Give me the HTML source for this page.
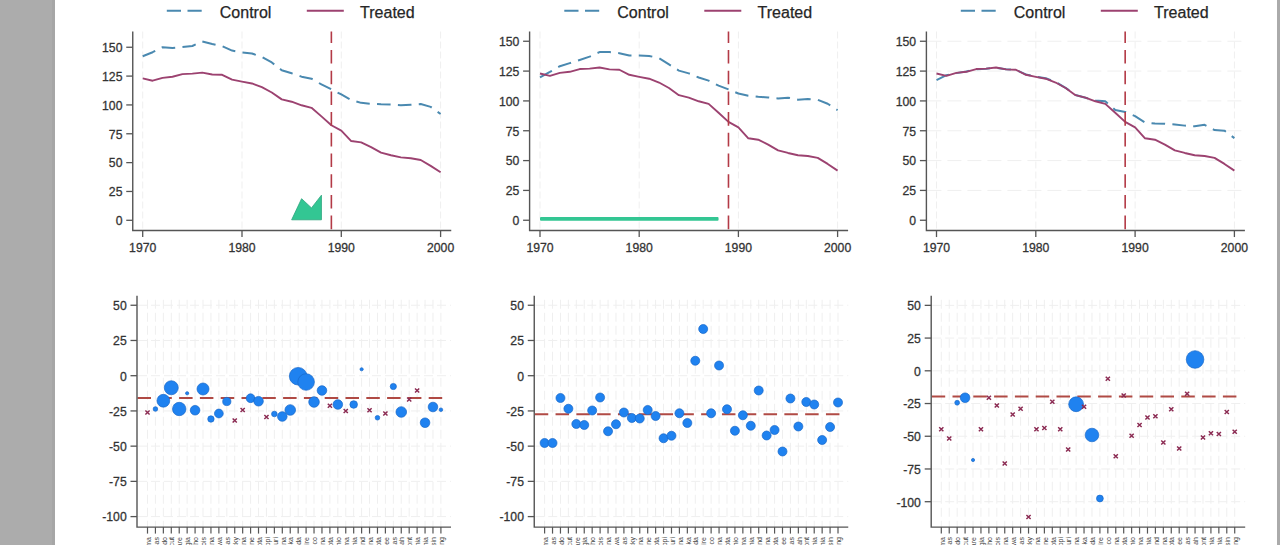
<!DOCTYPE html>
<html><head><meta charset="utf-8"><title>sdid</title>
<style>
html,body{margin:0;padding:0;background:#fff;}
body{width:1280px;height:545px;overflow:hidden;position:relative;font-family:"Liberation Sans", sans-serif;}
.gl{position:absolute;left:0;top:0;width:52px;height:545px;background:#acacac;}
.gl2{position:absolute;left:52px;top:0;width:3px;height:545px;background:#a6a6a6;}
.gr{position:absolute;left:1277px;top:0;width:3px;height:545px;background:#ababab;}
svg{position:absolute;left:0;top:0;}
.t{font-family:"Liberation Sans", sans-serif;font-size:12.8px;fill:#333333;stroke:#333;stroke-width:0.3px;}
.lg{font-family:"Liberation Sans", sans-serif;font-size:16px;fill:#262626;stroke:#262626;stroke-width:0.25px;}
.s{font-family:"Liberation Sans", sans-serif;font-size:7px;fill:#444;}
</style></head><body>
<div class="gl"></div><div class="gl2"></div><div class="gr"></div>
<svg width="1280" height="545" viewBox="0 0 1280 545">
<line x1="142.7" y1="31.5" x2="142.7" y2="230.55" stroke="#efefef" stroke-width="1" stroke-dasharray="7 3"/>
<line x1="242" y1="31.5" x2="242" y2="230.55" stroke="#efefef" stroke-width="1" stroke-dasharray="7 3"/>
<line x1="341.3" y1="31.5" x2="341.3" y2="230.55" stroke="#efefef" stroke-width="1" stroke-dasharray="7 3"/>
<line x1="440.6" y1="31.5" x2="440.6" y2="230.55" stroke="#efefef" stroke-width="1" stroke-dasharray="7 3"/>
<polygon points="291.65,219.8 301.58,198.69 311.51,207.92 321.44,195.17 321.44,219.8" fill="#33c693" stroke="#2aa57c" stroke-width="0.8" stroke-linejoin="miter"/>
<polyline points="142.7,56.24 152.63,52.21 162.56,47.25 172.49,47.94 182.42,46.9 192.35,45.98 202.28,41.48 212.21,44.01 222.14,46.21 232.07,50.59 242,52.55 251.93,53.47 261.86,56.94 271.79,62.47 281.72,70.2 291.65,73.32 301.58,76.66 311.51,78.74 321.44,84.39 331.37,89.36 341.3,94.43 351.23,99.97 361.16,102.85 371.09,103.78 381.02,104.35 390.95,104.58 400.88,105.28 410.81,104.7 420.74,104.01 430.67,106.89 440.6,114.04" fill="none" stroke="#4a89b0" stroke-width="2" stroke-dasharray="13.6 7.3" stroke-linejoin="round"/>
<polyline points="142.7,78.39 152.63,80.7 162.56,77.82 172.49,76.78 182.42,74.13 192.35,73.66 202.28,72.63 212.21,74.47 222.14,74.82 232.07,79.66 242,81.63 251.93,83.47 261.86,87.16 271.79,92.47 281.72,99.39 291.65,101.7 301.58,105.28 311.51,107.81 321.44,116.35 331.37,125.24 341.3,130.54 351.23,141.04 361.16,142.43 371.09,147.16 381.02,152.69 390.95,155.23 400.88,157.42 410.81,158.23 420.74,159.96 430.67,165.85 440.6,172.31" fill="none" stroke="#9c4270" stroke-width="1.9" stroke-linejoin="round"/>
<line x1="331.37" y1="31.5" x2="331.37" y2="230.55" stroke="#b33a46" stroke-width="1.6" stroke-dasharray="13.6 7.1" stroke-dashoffset="2.2"/>
<path d="M132.75 31.5V230.55H451.25" fill="none" stroke="#555555" stroke-width="1.4"/>
<line x1="126.25" y1="220.3" x2="132.75" y2="220.3" stroke="#555555" stroke-width="1.3"/>
<text transform="translate(122.45,225.1) scale(0.955,1)" text-anchor="end" class="t">0</text>
<line x1="126.25" y1="191.46" x2="132.75" y2="191.46" stroke="#555555" stroke-width="1.3"/>
<text transform="translate(122.45,196.26) scale(0.955,1)" text-anchor="end" class="t">25</text>
<line x1="126.25" y1="162.62" x2="132.75" y2="162.62" stroke="#555555" stroke-width="1.3"/>
<text transform="translate(122.45,167.42) scale(0.955,1)" text-anchor="end" class="t">50</text>
<line x1="126.25" y1="133.77" x2="132.75" y2="133.77" stroke="#555555" stroke-width="1.3"/>
<text transform="translate(122.45,138.57) scale(0.955,1)" text-anchor="end" class="t">75</text>
<line x1="126.25" y1="104.93" x2="132.75" y2="104.93" stroke="#555555" stroke-width="1.3"/>
<text transform="translate(122.45,109.73) scale(0.955,1)" text-anchor="end" class="t">100</text>
<line x1="126.25" y1="76.09" x2="132.75" y2="76.09" stroke="#555555" stroke-width="1.3"/>
<text transform="translate(122.45,80.89) scale(0.955,1)" text-anchor="end" class="t">125</text>
<line x1="126.25" y1="47.25" x2="132.75" y2="47.25" stroke="#555555" stroke-width="1.3"/>
<text transform="translate(122.45,52.05) scale(0.955,1)" text-anchor="end" class="t">150</text>
<line x1="142.7" y1="230.55" x2="142.7" y2="237.05" stroke="#555555" stroke-width="1.3"/>
<text transform="translate(142.7,252) scale(0.955,1)" text-anchor="middle" class="t">1970</text>
<line x1="242" y1="230.55" x2="242" y2="237.05" stroke="#555555" stroke-width="1.3"/>
<text transform="translate(242,252) scale(0.955,1)" text-anchor="middle" class="t">1980</text>
<line x1="341.3" y1="230.55" x2="341.3" y2="237.05" stroke="#555555" stroke-width="1.3"/>
<text transform="translate(341.3,252) scale(0.955,1)" text-anchor="middle" class="t">1990</text>
<line x1="440.6" y1="230.55" x2="440.6" y2="237.05" stroke="#555555" stroke-width="1.3"/>
<text transform="translate(440.6,252) scale(0.955,1)" text-anchor="middle" class="t">2000</text>
<line x1="166.8" y1="10.8" x2="202.3" y2="10.8" stroke="#4a89b0" stroke-width="2" stroke-dasharray="14.2 6.5"/>
<text x="219.8" y="17.5" class="lg">Control</text>
<line x1="306.8" y1="10.8" x2="343.8" y2="10.8" stroke="#9c4270" stroke-width="2"/>
<text x="360.1" y="17.5" class="lg">Treated</text>
<line x1="540" y1="31.5" x2="540" y2="230.55" stroke="#efefef" stroke-width="1" stroke-dasharray="7 3"/>
<line x1="639.2" y1="31.5" x2="639.2" y2="230.55" stroke="#efefef" stroke-width="1" stroke-dasharray="7 3"/>
<line x1="738.4" y1="31.5" x2="738.4" y2="230.55" stroke="#efefef" stroke-width="1" stroke-dasharray="7 3"/>
<line x1="837.6" y1="31.5" x2="837.6" y2="230.55" stroke="#efefef" stroke-width="1" stroke-dasharray="7 3"/>
<rect x="540" y="216.9" width="178.56" height="3.8" fill="#33c693" rx="1"/>
<polyline points="540,77.29 549.92,71.92 559.84,66.19 569.76,63.09 579.68,59.99 589.6,56.65 599.52,52.11 609.44,52.11 619.36,53.19 629.28,55.57 639.2,55.57 649.12,55.93 659.04,58.08 668.96,64.41 678.88,70.61 688.8,73.35 698.72,77.53 708.64,80.63 718.56,85.65 728.48,89.34 738.4,93.52 748.32,95.67 758.24,96.86 768.16,97.46 778.08,98.53 788,97.7 797.92,99.73 807.84,99.01 817.76,99.73 827.68,103.78 837.6,110.23" fill="none" stroke="#4a89b0" stroke-width="2" stroke-dasharray="13.6 7.3" stroke-linejoin="round"/>
<polyline points="540,73.47 549.92,75.86 559.84,72.88 569.76,71.8 579.68,69.06 589.6,68.58 599.52,67.51 609.44,69.42 619.36,69.77 629.28,74.79 639.2,76.82 649.12,78.72 659.04,82.54 668.96,88.03 678.88,95.19 688.8,97.58 698.72,101.28 708.64,103.9 718.56,112.73 728.48,121.92 738.4,127.41 748.32,138.27 758.24,139.7 768.16,144.59 778.08,150.32 788,152.95 797.92,155.22 807.84,156.05 817.76,157.84 827.68,163.93 837.6,170.61" fill="none" stroke="#9c4270" stroke-width="1.9" stroke-linejoin="round"/>
<line x1="728.48" y1="31.5" x2="728.48" y2="230.55" stroke="#b33a46" stroke-width="1.6" stroke-dasharray="13.6 7.1" stroke-dashoffset="2.2"/>
<path d="M529.6 31.5V230.55H848.1" fill="none" stroke="#555555" stroke-width="1.4"/>
<line x1="523.1" y1="220.25" x2="529.6" y2="220.25" stroke="#555555" stroke-width="1.3"/>
<text transform="translate(519.3,225.05) scale(0.955,1)" text-anchor="end" class="t">0</text>
<line x1="523.1" y1="190.42" x2="529.6" y2="190.42" stroke="#555555" stroke-width="1.3"/>
<text transform="translate(519.3,195.22) scale(0.955,1)" text-anchor="end" class="t">25</text>
<line x1="523.1" y1="160.59" x2="529.6" y2="160.59" stroke="#555555" stroke-width="1.3"/>
<text transform="translate(519.3,165.39) scale(0.955,1)" text-anchor="end" class="t">50</text>
<line x1="523.1" y1="130.75" x2="529.6" y2="130.75" stroke="#555555" stroke-width="1.3"/>
<text transform="translate(519.3,135.55) scale(0.955,1)" text-anchor="end" class="t">75</text>
<line x1="523.1" y1="100.92" x2="529.6" y2="100.92" stroke="#555555" stroke-width="1.3"/>
<text transform="translate(519.3,105.72) scale(0.955,1)" text-anchor="end" class="t">100</text>
<line x1="523.1" y1="71.09" x2="529.6" y2="71.09" stroke="#555555" stroke-width="1.3"/>
<text transform="translate(519.3,75.89) scale(0.955,1)" text-anchor="end" class="t">125</text>
<line x1="523.1" y1="41.25" x2="529.6" y2="41.25" stroke="#555555" stroke-width="1.3"/>
<text transform="translate(519.3,46.05) scale(0.955,1)" text-anchor="end" class="t">150</text>
<line x1="540" y1="230.55" x2="540" y2="237.05" stroke="#555555" stroke-width="1.3"/>
<text transform="translate(540,252) scale(0.955,1)" text-anchor="middle" class="t">1970</text>
<line x1="639.2" y1="230.55" x2="639.2" y2="237.05" stroke="#555555" stroke-width="1.3"/>
<text transform="translate(639.2,252) scale(0.955,1)" text-anchor="middle" class="t">1980</text>
<line x1="738.4" y1="230.55" x2="738.4" y2="237.05" stroke="#555555" stroke-width="1.3"/>
<text transform="translate(738.4,252) scale(0.955,1)" text-anchor="middle" class="t">1990</text>
<line x1="837.6" y1="230.55" x2="837.6" y2="237.05" stroke="#555555" stroke-width="1.3"/>
<text transform="translate(837.6,252) scale(0.955,1)" text-anchor="middle" class="t">2000</text>
<line x1="564.3" y1="10.8" x2="599.8" y2="10.8" stroke="#4a89b0" stroke-width="2" stroke-dasharray="14.2 6.5"/>
<text x="617.3" y="17.5" class="lg">Control</text>
<line x1="704.3" y1="10.8" x2="741.3" y2="10.8" stroke="#9c4270" stroke-width="2"/>
<text x="757.6" y="17.5" class="lg">Treated</text>
<line x1="936.5" y1="31.5" x2="936.5" y2="230.55" stroke="#efefef" stroke-width="1" stroke-dasharray="7 3"/>
<line x1="1035.8" y1="31.5" x2="1035.8" y2="230.55" stroke="#efefef" stroke-width="1" stroke-dasharray="7 3"/>
<line x1="1135.1" y1="31.5" x2="1135.1" y2="230.55" stroke="#efefef" stroke-width="1" stroke-dasharray="7 3"/>
<line x1="1234.4" y1="31.5" x2="1234.4" y2="230.55" stroke="#efefef" stroke-width="1" stroke-dasharray="7 3"/>
<line x1="927.4" y1="190.42" x2="1244.9" y2="190.42" stroke="#efefef" stroke-width="1" stroke-dasharray="14 6"/>
<line x1="927.4" y1="160.59" x2="1244.9" y2="160.59" stroke="#efefef" stroke-width="1" stroke-dasharray="14 6"/>
<line x1="927.4" y1="130.75" x2="1244.9" y2="130.75" stroke="#efefef" stroke-width="1" stroke-dasharray="14 6"/>
<line x1="927.4" y1="100.92" x2="1244.9" y2="100.92" stroke="#efefef" stroke-width="1" stroke-dasharray="14 6"/>
<line x1="927.4" y1="71.09" x2="1244.9" y2="71.09" stroke="#efefef" stroke-width="1" stroke-dasharray="14 6"/>
<line x1="927.4" y1="41.25" x2="1244.9" y2="41.25" stroke="#efefef" stroke-width="1" stroke-dasharray="14 6"/>
<polyline points="936.5,80.04 946.43,75.14 956.36,73.12 966.29,71.56 976.22,69.3 986.15,68.7 996.08,67.75 1006.01,69.3 1015.94,69.89 1025.87,74.43 1035.8,76.58 1045.73,78.25 1055.66,81.95 1065.59,87.79 1075.52,94.95 1085.45,97.82 1095.38,100.56 1105.31,101.28 1115.24,109.99 1125.17,111.9 1135.1,116.19 1145.03,122.52 1154.96,123.47 1164.89,123.71 1174.82,124.43 1184.75,125.62 1194.68,126.22 1204.61,124.79 1214.54,130.04 1224.47,130.63 1234.4,138.15" fill="none" stroke="#4a89b0" stroke-width="2" stroke-dasharray="13.6 7.3" stroke-linejoin="round"/>
<polyline points="936.5,73.47 946.43,75.86 956.36,72.88 966.29,71.8 976.22,69.06 986.15,68.58 996.08,67.51 1006.01,69.42 1015.94,69.77 1025.87,74.79 1035.8,76.82 1045.73,78.72 1055.66,82.54 1065.59,88.03 1075.52,95.19 1085.45,97.58 1095.38,101.28 1105.31,103.9 1115.24,112.73 1125.17,121.92 1135.1,127.41 1145.03,138.27 1154.96,139.7 1164.89,144.59 1174.82,150.32 1184.75,152.95 1194.68,155.22 1204.61,156.05 1214.54,157.84 1224.47,163.93 1234.4,170.61" fill="none" stroke="#9c4270" stroke-width="1.9" stroke-linejoin="round"/>
<line x1="1125.17" y1="31.5" x2="1125.17" y2="230.55" stroke="#b33a46" stroke-width="1.6" stroke-dasharray="13.6 7.1" stroke-dashoffset="2.2"/>
<path d="M926.4 31.5V230.55H1244.9" fill="none" stroke="#555555" stroke-width="1.4"/>
<line x1="919.9" y1="220.25" x2="926.4" y2="220.25" stroke="#555555" stroke-width="1.3"/>
<text transform="translate(916.1,225.05) scale(0.955,1)" text-anchor="end" class="t">0</text>
<line x1="919.9" y1="190.42" x2="926.4" y2="190.42" stroke="#555555" stroke-width="1.3"/>
<text transform="translate(916.1,195.22) scale(0.955,1)" text-anchor="end" class="t">25</text>
<line x1="919.9" y1="160.59" x2="926.4" y2="160.59" stroke="#555555" stroke-width="1.3"/>
<text transform="translate(916.1,165.39) scale(0.955,1)" text-anchor="end" class="t">50</text>
<line x1="919.9" y1="130.75" x2="926.4" y2="130.75" stroke="#555555" stroke-width="1.3"/>
<text transform="translate(916.1,135.55) scale(0.955,1)" text-anchor="end" class="t">75</text>
<line x1="919.9" y1="100.92" x2="926.4" y2="100.92" stroke="#555555" stroke-width="1.3"/>
<text transform="translate(916.1,105.72) scale(0.955,1)" text-anchor="end" class="t">100</text>
<line x1="919.9" y1="71.09" x2="926.4" y2="71.09" stroke="#555555" stroke-width="1.3"/>
<text transform="translate(916.1,75.89) scale(0.955,1)" text-anchor="end" class="t">125</text>
<line x1="919.9" y1="41.25" x2="926.4" y2="41.25" stroke="#555555" stroke-width="1.3"/>
<text transform="translate(916.1,46.05) scale(0.955,1)" text-anchor="end" class="t">150</text>
<line x1="936.5" y1="230.55" x2="936.5" y2="237.05" stroke="#555555" stroke-width="1.3"/>
<text transform="translate(936.5,252) scale(0.955,1)" text-anchor="middle" class="t">1970</text>
<line x1="1035.8" y1="230.55" x2="1035.8" y2="237.05" stroke="#555555" stroke-width="1.3"/>
<text transform="translate(1035.8,252) scale(0.955,1)" text-anchor="middle" class="t">1980</text>
<line x1="1135.1" y1="230.55" x2="1135.1" y2="237.05" stroke="#555555" stroke-width="1.3"/>
<text transform="translate(1135.1,252) scale(0.955,1)" text-anchor="middle" class="t">1990</text>
<line x1="1234.4" y1="230.55" x2="1234.4" y2="237.05" stroke="#555555" stroke-width="1.3"/>
<text transform="translate(1234.4,252) scale(0.955,1)" text-anchor="middle" class="t">2000</text>
<line x1="960.8" y1="10.8" x2="996.3" y2="10.8" stroke="#4a89b0" stroke-width="2" stroke-dasharray="14.2 6.5"/>
<text x="1013.8" y="17.5" class="lg">Control</text>
<line x1="1100.8" y1="10.8" x2="1137.8" y2="10.8" stroke="#9c4270" stroke-width="2"/>
<text x="1154.1" y="17.5" class="lg">Treated</text>
<line x1="147.5" y1="299.75" x2="147.5" y2="527.1" stroke="#efefef" stroke-width="1" stroke-dasharray="9 4"/>
<line x1="155.43" y1="299.75" x2="155.43" y2="527.1" stroke="#efefef" stroke-width="1" stroke-dasharray="9 4"/>
<line x1="163.36" y1="299.75" x2="163.36" y2="527.1" stroke="#efefef" stroke-width="1" stroke-dasharray="9 4"/>
<line x1="171.29" y1="299.75" x2="171.29" y2="527.1" stroke="#efefef" stroke-width="1" stroke-dasharray="9 4"/>
<line x1="179.22" y1="299.75" x2="179.22" y2="527.1" stroke="#efefef" stroke-width="1" stroke-dasharray="9 4"/>
<line x1="187.15" y1="299.75" x2="187.15" y2="527.1" stroke="#efefef" stroke-width="1" stroke-dasharray="9 4"/>
<line x1="195.08" y1="299.75" x2="195.08" y2="527.1" stroke="#efefef" stroke-width="1" stroke-dasharray="9 4"/>
<line x1="203.01" y1="299.75" x2="203.01" y2="527.1" stroke="#efefef" stroke-width="1" stroke-dasharray="9 4"/>
<line x1="210.94" y1="299.75" x2="210.94" y2="527.1" stroke="#efefef" stroke-width="1" stroke-dasharray="9 4"/>
<line x1="218.87" y1="299.75" x2="218.87" y2="527.1" stroke="#efefef" stroke-width="1" stroke-dasharray="9 4"/>
<line x1="226.8" y1="299.75" x2="226.8" y2="527.1" stroke="#efefef" stroke-width="1" stroke-dasharray="9 4"/>
<line x1="234.73" y1="299.75" x2="234.73" y2="527.1" stroke="#efefef" stroke-width="1" stroke-dasharray="9 4"/>
<line x1="242.66" y1="299.75" x2="242.66" y2="527.1" stroke="#efefef" stroke-width="1" stroke-dasharray="9 4"/>
<line x1="250.59" y1="299.75" x2="250.59" y2="527.1" stroke="#efefef" stroke-width="1" stroke-dasharray="9 4"/>
<line x1="258.52" y1="299.75" x2="258.52" y2="527.1" stroke="#efefef" stroke-width="1" stroke-dasharray="9 4"/>
<line x1="266.45" y1="299.75" x2="266.45" y2="527.1" stroke="#efefef" stroke-width="1" stroke-dasharray="9 4"/>
<line x1="274.38" y1="299.75" x2="274.38" y2="527.1" stroke="#efefef" stroke-width="1" stroke-dasharray="9 4"/>
<line x1="282.31" y1="299.75" x2="282.31" y2="527.1" stroke="#efefef" stroke-width="1" stroke-dasharray="9 4"/>
<line x1="290.24" y1="299.75" x2="290.24" y2="527.1" stroke="#efefef" stroke-width="1" stroke-dasharray="9 4"/>
<line x1="298.17" y1="299.75" x2="298.17" y2="527.1" stroke="#efefef" stroke-width="1" stroke-dasharray="9 4"/>
<line x1="306.1" y1="299.75" x2="306.1" y2="527.1" stroke="#efefef" stroke-width="1" stroke-dasharray="9 4"/>
<line x1="314.03" y1="299.75" x2="314.03" y2="527.1" stroke="#efefef" stroke-width="1" stroke-dasharray="9 4"/>
<line x1="321.96" y1="299.75" x2="321.96" y2="527.1" stroke="#efefef" stroke-width="1" stroke-dasharray="9 4"/>
<line x1="329.89" y1="299.75" x2="329.89" y2="527.1" stroke="#efefef" stroke-width="1" stroke-dasharray="9 4"/>
<line x1="337.82" y1="299.75" x2="337.82" y2="527.1" stroke="#efefef" stroke-width="1" stroke-dasharray="9 4"/>
<line x1="345.75" y1="299.75" x2="345.75" y2="527.1" stroke="#efefef" stroke-width="1" stroke-dasharray="9 4"/>
<line x1="353.68" y1="299.75" x2="353.68" y2="527.1" stroke="#efefef" stroke-width="1" stroke-dasharray="9 4"/>
<line x1="361.61" y1="299.75" x2="361.61" y2="527.1" stroke="#efefef" stroke-width="1" stroke-dasharray="9 4"/>
<line x1="369.54" y1="299.75" x2="369.54" y2="527.1" stroke="#efefef" stroke-width="1" stroke-dasharray="9 4"/>
<line x1="377.47" y1="299.75" x2="377.47" y2="527.1" stroke="#efefef" stroke-width="1" stroke-dasharray="9 4"/>
<line x1="385.4" y1="299.75" x2="385.4" y2="527.1" stroke="#efefef" stroke-width="1" stroke-dasharray="9 4"/>
<line x1="393.33" y1="299.75" x2="393.33" y2="527.1" stroke="#efefef" stroke-width="1" stroke-dasharray="9 4"/>
<line x1="401.26" y1="299.75" x2="401.26" y2="527.1" stroke="#efefef" stroke-width="1" stroke-dasharray="9 4"/>
<line x1="409.19" y1="299.75" x2="409.19" y2="527.1" stroke="#efefef" stroke-width="1" stroke-dasharray="9 4"/>
<line x1="417.12" y1="299.75" x2="417.12" y2="527.1" stroke="#efefef" stroke-width="1" stroke-dasharray="9 4"/>
<line x1="425.05" y1="299.75" x2="425.05" y2="527.1" stroke="#efefef" stroke-width="1" stroke-dasharray="9 4"/>
<line x1="432.98" y1="299.75" x2="432.98" y2="527.1" stroke="#efefef" stroke-width="1" stroke-dasharray="9 4"/>
<line x1="440.91" y1="299.75" x2="440.91" y2="527.1" stroke="#efefef" stroke-width="1" stroke-dasharray="9 4"/>
<line x1="138" y1="305.25" x2="451" y2="305.25" stroke="#efefef" stroke-width="1" stroke-dasharray="9 4"/>
<line x1="138" y1="340.47" x2="451" y2="340.47" stroke="#efefef" stroke-width="1" stroke-dasharray="9 4"/>
<line x1="138" y1="375.7" x2="451" y2="375.7" stroke="#efefef" stroke-width="1" stroke-dasharray="9 4"/>
<line x1="138" y1="410.93" x2="451" y2="410.93" stroke="#efefef" stroke-width="1" stroke-dasharray="9 4"/>
<line x1="138" y1="446.15" x2="451" y2="446.15" stroke="#efefef" stroke-width="1" stroke-dasharray="9 4"/>
<line x1="138" y1="481.38" x2="451" y2="481.38" stroke="#efefef" stroke-width="1" stroke-dasharray="9 4"/>
<line x1="138" y1="516.6" x2="451" y2="516.6" stroke="#efefef" stroke-width="1" stroke-dasharray="9 4"/>
<line x1="137.5" y1="398" x2="449" y2="398" stroke="#b04a44" stroke-width="2" stroke-dasharray="13.5 7.3"/>
<path d="M145.4 410.4L149.6 414.6M145.4 414.6L149.6 410.4" stroke="#8b2a52" stroke-width="1.45"/>
<circle cx="155.43" cy="409" r="2.3" fill="#1f82f0" stroke="#1a68c8" stroke-width="0.7"/>
<circle cx="163.36" cy="400.75" r="6.4" fill="#1f82f0" stroke="#1a68c8" stroke-width="0.7"/>
<circle cx="171.29" cy="387.75" r="7" fill="#1f82f0" stroke="#1a68c8" stroke-width="0.7"/>
<circle cx="179.22" cy="409" r="6.7" fill="#1f82f0" stroke="#1a68c8" stroke-width="0.7"/>
<circle cx="187.15" cy="393.25" r="1.6" fill="#1f82f0" stroke="#1a68c8" stroke-width="0.7"/>
<circle cx="195.08" cy="410.25" r="4.8" fill="#1f82f0" stroke="#1a68c8" stroke-width="0.7"/>
<circle cx="203.01" cy="389" r="6" fill="#1f82f0" stroke="#1a68c8" stroke-width="0.7"/>
<circle cx="210.94" cy="419" r="3.2" fill="#1f82f0" stroke="#1a68c8" stroke-width="0.7"/>
<circle cx="218.87" cy="413.5" r="4.4" fill="#1f82f0" stroke="#1a68c8" stroke-width="0.7"/>
<circle cx="226.8" cy="401.5" r="4.1" fill="#1f82f0" stroke="#1a68c8" stroke-width="0.7"/>
<path d="M232.63 418.4L236.83 422.6M232.63 422.6L236.83 418.4" stroke="#8b2a52" stroke-width="1.45"/>
<path d="M240.56 407.9L244.76 412.1M240.56 412.1L244.76 407.9" stroke="#8b2a52" stroke-width="1.45"/>
<circle cx="250.59" cy="398.25" r="4.4" fill="#1f82f0" stroke="#1a68c8" stroke-width="0.7"/>
<circle cx="258.52" cy="401.25" r="4.8" fill="#1f82f0" stroke="#1a68c8" stroke-width="0.7"/>
<path d="M264.35 414.9L268.55 419.1M264.35 419.1L268.55 414.9" stroke="#8b2a52" stroke-width="1.45"/>
<circle cx="274.38" cy="414" r="2.8" fill="#1f82f0" stroke="#1a68c8" stroke-width="0.7"/>
<circle cx="282.31" cy="416.5" r="4.8" fill="#1f82f0" stroke="#1a68c8" stroke-width="0.7"/>
<circle cx="290.24" cy="410" r="5.3" fill="#1f82f0" stroke="#1a68c8" stroke-width="0.7"/>
<circle cx="298.17" cy="376.25" r="8.8" fill="#1f82f0" stroke="#1a68c8" stroke-width="0.7"/>
<circle cx="306.1" cy="382" r="8.3" fill="#1f82f0" stroke="#1a68c8" stroke-width="0.7"/>
<circle cx="314.03" cy="402" r="5.3" fill="#1f82f0" stroke="#1a68c8" stroke-width="0.7"/>
<circle cx="321.96" cy="390.5" r="4.8" fill="#1f82f0" stroke="#1a68c8" stroke-width="0.7"/>
<path d="M327.79 403.65L331.99 407.85M327.79 407.85L331.99 403.65" stroke="#8b2a52" stroke-width="1.45"/>
<circle cx="337.82" cy="404.5" r="4.8" fill="#1f82f0" stroke="#1a68c8" stroke-width="0.7"/>
<path d="M343.65 408.9L347.85 413.1M343.65 413.1L347.85 408.9" stroke="#8b2a52" stroke-width="1.45"/>
<circle cx="353.68" cy="404.5" r="3.8" fill="#1f82f0" stroke="#1a68c8" stroke-width="0.7"/>
<circle cx="361.61" cy="369.25" r="1.6" fill="#1f82f0" stroke="#1a68c8" stroke-width="0.7"/>
<path d="M367.44 408.15L371.64 412.35M367.44 412.35L371.64 408.15" stroke="#8b2a52" stroke-width="1.45"/>
<circle cx="377.47" cy="417.75" r="2.3" fill="#1f82f0" stroke="#1a68c8" stroke-width="0.7"/>
<path d="M383.3 411.4L387.5 415.6M383.3 415.6L387.5 411.4" stroke="#8b2a52" stroke-width="1.45"/>
<circle cx="393.33" cy="386.5" r="3.1" fill="#1f82f0" stroke="#1a68c8" stroke-width="0.7"/>
<circle cx="401.26" cy="412" r="5.3" fill="#1f82f0" stroke="#1a68c8" stroke-width="0.7"/>
<path d="M407.09 397.4L411.29 401.6M407.09 401.6L411.29 397.4" stroke="#8b2a52" stroke-width="1.45"/>
<path d="M415.02 388.4L419.22 392.6M415.02 392.6L419.22 388.4" stroke="#8b2a52" stroke-width="1.45"/>
<circle cx="425.05" cy="422.75" r="4.8" fill="#1f82f0" stroke="#1a68c8" stroke-width="0.7"/>
<circle cx="432.98" cy="407" r="4.8" fill="#1f82f0" stroke="#1a68c8" stroke-width="0.7"/>
<circle cx="440.91" cy="409.75" r="1.8" fill="#1f82f0" stroke="#1a68c8" stroke-width="0.7"/>
<path d="M137 295.75V527.1H451" fill="none" stroke="#555555" stroke-width="1.4"/>
<line x1="130.5" y1="305.25" x2="137" y2="305.25" stroke="#555555" stroke-width="1.3"/>
<text transform="translate(126.7,310.05) scale(0.955,1)" text-anchor="end" class="t">50</text>
<line x1="130.5" y1="340.47" x2="137" y2="340.47" stroke="#555555" stroke-width="1.3"/>
<text transform="translate(126.7,345.27) scale(0.955,1)" text-anchor="end" class="t">25</text>
<line x1="130.5" y1="375.7" x2="137" y2="375.7" stroke="#555555" stroke-width="1.3"/>
<text transform="translate(126.7,380.5) scale(0.955,1)" text-anchor="end" class="t">0</text>
<line x1="130.5" y1="410.93" x2="137" y2="410.93" stroke="#555555" stroke-width="1.3"/>
<text transform="translate(126.7,415.73) scale(0.955,1)" text-anchor="end" class="t">-25</text>
<line x1="130.5" y1="446.15" x2="137" y2="446.15" stroke="#555555" stroke-width="1.3"/>
<text transform="translate(126.7,450.95) scale(0.955,1)" text-anchor="end" class="t">-50</text>
<line x1="130.5" y1="481.38" x2="137" y2="481.38" stroke="#555555" stroke-width="1.3"/>
<text transform="translate(126.7,486.18) scale(0.955,1)" text-anchor="end" class="t">-75</text>
<line x1="130.5" y1="516.6" x2="137" y2="516.6" stroke="#555555" stroke-width="1.3"/>
<text transform="translate(126.7,521.4) scale(0.955,1)" text-anchor="end" class="t">-100</text>
<line x1="147.5" y1="527.1" x2="147.5" y2="533.6" stroke="#555555" stroke-width="1.2"/>
<text transform="translate(150.7,537) rotate(-90)" text-anchor="end" class="s">Alabama</text>
<line x1="155.43" y1="527.1" x2="155.43" y2="533.6" stroke="#555555" stroke-width="1.2"/>
<text transform="translate(158.63,537) rotate(-90)" text-anchor="end" class="s">Arkansas</text>
<line x1="163.36" y1="527.1" x2="163.36" y2="533.6" stroke="#555555" stroke-width="1.2"/>
<text transform="translate(166.56,537) rotate(-90)" text-anchor="end" class="s">Colorado</text>
<line x1="171.29" y1="527.1" x2="171.29" y2="533.6" stroke="#555555" stroke-width="1.2"/>
<text transform="translate(174.49,537) rotate(-90)" text-anchor="end" class="s">Connecticut</text>
<line x1="179.22" y1="527.1" x2="179.22" y2="533.6" stroke="#555555" stroke-width="1.2"/>
<text transform="translate(182.42,537) rotate(-90)" text-anchor="end" class="s">Delaware</text>
<line x1="187.15" y1="527.1" x2="187.15" y2="533.6" stroke="#555555" stroke-width="1.2"/>
<text transform="translate(190.35,537) rotate(-90)" text-anchor="end" class="s">Georgia</text>
<line x1="195.08" y1="527.1" x2="195.08" y2="533.6" stroke="#555555" stroke-width="1.2"/>
<text transform="translate(198.28,537) rotate(-90)" text-anchor="end" class="s">Idaho</text>
<line x1="203.01" y1="527.1" x2="203.01" y2="533.6" stroke="#555555" stroke-width="1.2"/>
<text transform="translate(206.21,537) rotate(-90)" text-anchor="end" class="s">Illinois</text>
<line x1="210.94" y1="527.1" x2="210.94" y2="533.6" stroke="#555555" stroke-width="1.2"/>
<text transform="translate(214.14,537) rotate(-90)" text-anchor="end" class="s">Indiana</text>
<line x1="218.87" y1="527.1" x2="218.87" y2="533.6" stroke="#555555" stroke-width="1.2"/>
<text transform="translate(222.07,537) rotate(-90)" text-anchor="end" class="s">Iowa</text>
<line x1="226.8" y1="527.1" x2="226.8" y2="533.6" stroke="#555555" stroke-width="1.2"/>
<text transform="translate(230,537) rotate(-90)" text-anchor="end" class="s">Kansas</text>
<line x1="234.73" y1="527.1" x2="234.73" y2="533.6" stroke="#555555" stroke-width="1.2"/>
<text transform="translate(237.93,537) rotate(-90)" text-anchor="end" class="s">Kentucky</text>
<line x1="242.66" y1="527.1" x2="242.66" y2="533.6" stroke="#555555" stroke-width="1.2"/>
<text transform="translate(245.86,537) rotate(-90)" text-anchor="end" class="s">Louisiana</text>
<line x1="250.59" y1="527.1" x2="250.59" y2="533.6" stroke="#555555" stroke-width="1.2"/>
<text transform="translate(253.79,537) rotate(-90)" text-anchor="end" class="s">Maine</text>
<line x1="258.52" y1="527.1" x2="258.52" y2="533.6" stroke="#555555" stroke-width="1.2"/>
<text transform="translate(261.72,537) rotate(-90)" text-anchor="end" class="s">Minnesota</text>
<line x1="266.45" y1="527.1" x2="266.45" y2="533.6" stroke="#555555" stroke-width="1.2"/>
<text transform="translate(269.65,537) rotate(-90)" text-anchor="end" class="s">Mississippi</text>
<line x1="274.38" y1="527.1" x2="274.38" y2="533.6" stroke="#555555" stroke-width="1.2"/>
<text transform="translate(277.58,537) rotate(-90)" text-anchor="end" class="s">Missouri</text>
<line x1="282.31" y1="527.1" x2="282.31" y2="533.6" stroke="#555555" stroke-width="1.2"/>
<text transform="translate(285.51,537) rotate(-90)" text-anchor="end" class="s">Montana</text>
<line x1="290.24" y1="527.1" x2="290.24" y2="533.6" stroke="#555555" stroke-width="1.2"/>
<text transform="translate(293.44,537) rotate(-90)" text-anchor="end" class="s">Nebraska</text>
<line x1="298.17" y1="527.1" x2="298.17" y2="533.6" stroke="#555555" stroke-width="1.2"/>
<text transform="translate(301.37,537) rotate(-90)" text-anchor="end" class="s">Nevada</text>
<line x1="306.1" y1="527.1" x2="306.1" y2="533.6" stroke="#555555" stroke-width="1.2"/>
<text transform="translate(309.3,537) rotate(-90)" text-anchor="end" class="s">New Hampshire</text>
<line x1="314.03" y1="527.1" x2="314.03" y2="533.6" stroke="#555555" stroke-width="1.2"/>
<text transform="translate(317.23,537) rotate(-90)" text-anchor="end" class="s">New Mexico</text>
<line x1="321.96" y1="527.1" x2="321.96" y2="533.6" stroke="#555555" stroke-width="1.2"/>
<text transform="translate(325.16,537) rotate(-90)" text-anchor="end" class="s">North Carolina</text>
<line x1="329.89" y1="527.1" x2="329.89" y2="533.6" stroke="#555555" stroke-width="1.2"/>
<text transform="translate(333.09,537) rotate(-90)" text-anchor="end" class="s">North Dakota</text>
<line x1="337.82" y1="527.1" x2="337.82" y2="533.6" stroke="#555555" stroke-width="1.2"/>
<text transform="translate(341.02,537) rotate(-90)" text-anchor="end" class="s">Ohio</text>
<line x1="345.75" y1="527.1" x2="345.75" y2="533.6" stroke="#555555" stroke-width="1.2"/>
<text transform="translate(348.95,537) rotate(-90)" text-anchor="end" class="s">Oklahoma</text>
<line x1="353.68" y1="527.1" x2="353.68" y2="533.6" stroke="#555555" stroke-width="1.2"/>
<text transform="translate(356.88,537) rotate(-90)" text-anchor="end" class="s">Pennsylvania</text>
<line x1="361.61" y1="527.1" x2="361.61" y2="533.6" stroke="#555555" stroke-width="1.2"/>
<text transform="translate(364.81,537) rotate(-90)" text-anchor="end" class="s">Rhode Island</text>
<line x1="369.54" y1="527.1" x2="369.54" y2="533.6" stroke="#555555" stroke-width="1.2"/>
<text transform="translate(372.74,537) rotate(-90)" text-anchor="end" class="s">South Carolina</text>
<line x1="377.47" y1="527.1" x2="377.47" y2="533.6" stroke="#555555" stroke-width="1.2"/>
<text transform="translate(380.67,537) rotate(-90)" text-anchor="end" class="s">South Dakota</text>
<line x1="385.4" y1="527.1" x2="385.4" y2="533.6" stroke="#555555" stroke-width="1.2"/>
<text transform="translate(388.6,537) rotate(-90)" text-anchor="end" class="s">Tennessee</text>
<line x1="393.33" y1="527.1" x2="393.33" y2="533.6" stroke="#555555" stroke-width="1.2"/>
<text transform="translate(396.53,537) rotate(-90)" text-anchor="end" class="s">Texas</text>
<line x1="401.26" y1="527.1" x2="401.26" y2="533.6" stroke="#555555" stroke-width="1.2"/>
<text transform="translate(404.46,537) rotate(-90)" text-anchor="end" class="s">Utah</text>
<line x1="409.19" y1="527.1" x2="409.19" y2="533.6" stroke="#555555" stroke-width="1.2"/>
<text transform="translate(412.39,537) rotate(-90)" text-anchor="end" class="s">Vermont</text>
<line x1="417.12" y1="527.1" x2="417.12" y2="533.6" stroke="#555555" stroke-width="1.2"/>
<text transform="translate(420.32,537) rotate(-90)" text-anchor="end" class="s">Virginia</text>
<line x1="425.05" y1="527.1" x2="425.05" y2="533.6" stroke="#555555" stroke-width="1.2"/>
<text transform="translate(428.25,537) rotate(-90)" text-anchor="end" class="s">West Virginia</text>
<line x1="432.98" y1="527.1" x2="432.98" y2="533.6" stroke="#555555" stroke-width="1.2"/>
<text transform="translate(436.18,537) rotate(-90)" text-anchor="end" class="s">Wisconsin</text>
<line x1="440.91" y1="527.1" x2="440.91" y2="533.6" stroke="#555555" stroke-width="1.2"/>
<text transform="translate(444.11,537) rotate(-90)" text-anchor="end" class="s">Wyoming</text>
<line x1="544.6" y1="299.75" x2="544.6" y2="527.1" stroke="#efefef" stroke-width="1" stroke-dasharray="9 4"/>
<line x1="552.53" y1="299.75" x2="552.53" y2="527.1" stroke="#efefef" stroke-width="1" stroke-dasharray="9 4"/>
<line x1="560.46" y1="299.75" x2="560.46" y2="527.1" stroke="#efefef" stroke-width="1" stroke-dasharray="9 4"/>
<line x1="568.39" y1="299.75" x2="568.39" y2="527.1" stroke="#efefef" stroke-width="1" stroke-dasharray="9 4"/>
<line x1="576.32" y1="299.75" x2="576.32" y2="527.1" stroke="#efefef" stroke-width="1" stroke-dasharray="9 4"/>
<line x1="584.25" y1="299.75" x2="584.25" y2="527.1" stroke="#efefef" stroke-width="1" stroke-dasharray="9 4"/>
<line x1="592.18" y1="299.75" x2="592.18" y2="527.1" stroke="#efefef" stroke-width="1" stroke-dasharray="9 4"/>
<line x1="600.11" y1="299.75" x2="600.11" y2="527.1" stroke="#efefef" stroke-width="1" stroke-dasharray="9 4"/>
<line x1="608.04" y1="299.75" x2="608.04" y2="527.1" stroke="#efefef" stroke-width="1" stroke-dasharray="9 4"/>
<line x1="615.97" y1="299.75" x2="615.97" y2="527.1" stroke="#efefef" stroke-width="1" stroke-dasharray="9 4"/>
<line x1="623.9" y1="299.75" x2="623.9" y2="527.1" stroke="#efefef" stroke-width="1" stroke-dasharray="9 4"/>
<line x1="631.83" y1="299.75" x2="631.83" y2="527.1" stroke="#efefef" stroke-width="1" stroke-dasharray="9 4"/>
<line x1="639.76" y1="299.75" x2="639.76" y2="527.1" stroke="#efefef" stroke-width="1" stroke-dasharray="9 4"/>
<line x1="647.69" y1="299.75" x2="647.69" y2="527.1" stroke="#efefef" stroke-width="1" stroke-dasharray="9 4"/>
<line x1="655.62" y1="299.75" x2="655.62" y2="527.1" stroke="#efefef" stroke-width="1" stroke-dasharray="9 4"/>
<line x1="663.55" y1="299.75" x2="663.55" y2="527.1" stroke="#efefef" stroke-width="1" stroke-dasharray="9 4"/>
<line x1="671.48" y1="299.75" x2="671.48" y2="527.1" stroke="#efefef" stroke-width="1" stroke-dasharray="9 4"/>
<line x1="679.41" y1="299.75" x2="679.41" y2="527.1" stroke="#efefef" stroke-width="1" stroke-dasharray="9 4"/>
<line x1="687.34" y1="299.75" x2="687.34" y2="527.1" stroke="#efefef" stroke-width="1" stroke-dasharray="9 4"/>
<line x1="695.27" y1="299.75" x2="695.27" y2="527.1" stroke="#efefef" stroke-width="1" stroke-dasharray="9 4"/>
<line x1="703.2" y1="299.75" x2="703.2" y2="527.1" stroke="#efefef" stroke-width="1" stroke-dasharray="9 4"/>
<line x1="711.13" y1="299.75" x2="711.13" y2="527.1" stroke="#efefef" stroke-width="1" stroke-dasharray="9 4"/>
<line x1="719.06" y1="299.75" x2="719.06" y2="527.1" stroke="#efefef" stroke-width="1" stroke-dasharray="9 4"/>
<line x1="726.99" y1="299.75" x2="726.99" y2="527.1" stroke="#efefef" stroke-width="1" stroke-dasharray="9 4"/>
<line x1="734.92" y1="299.75" x2="734.92" y2="527.1" stroke="#efefef" stroke-width="1" stroke-dasharray="9 4"/>
<line x1="742.85" y1="299.75" x2="742.85" y2="527.1" stroke="#efefef" stroke-width="1" stroke-dasharray="9 4"/>
<line x1="750.78" y1="299.75" x2="750.78" y2="527.1" stroke="#efefef" stroke-width="1" stroke-dasharray="9 4"/>
<line x1="758.71" y1="299.75" x2="758.71" y2="527.1" stroke="#efefef" stroke-width="1" stroke-dasharray="9 4"/>
<line x1="766.64" y1="299.75" x2="766.64" y2="527.1" stroke="#efefef" stroke-width="1" stroke-dasharray="9 4"/>
<line x1="774.57" y1="299.75" x2="774.57" y2="527.1" stroke="#efefef" stroke-width="1" stroke-dasharray="9 4"/>
<line x1="782.5" y1="299.75" x2="782.5" y2="527.1" stroke="#efefef" stroke-width="1" stroke-dasharray="9 4"/>
<line x1="790.43" y1="299.75" x2="790.43" y2="527.1" stroke="#efefef" stroke-width="1" stroke-dasharray="9 4"/>
<line x1="798.36" y1="299.75" x2="798.36" y2="527.1" stroke="#efefef" stroke-width="1" stroke-dasharray="9 4"/>
<line x1="806.29" y1="299.75" x2="806.29" y2="527.1" stroke="#efefef" stroke-width="1" stroke-dasharray="9 4"/>
<line x1="814.22" y1="299.75" x2="814.22" y2="527.1" stroke="#efefef" stroke-width="1" stroke-dasharray="9 4"/>
<line x1="822.15" y1="299.75" x2="822.15" y2="527.1" stroke="#efefef" stroke-width="1" stroke-dasharray="9 4"/>
<line x1="830.08" y1="299.75" x2="830.08" y2="527.1" stroke="#efefef" stroke-width="1" stroke-dasharray="9 4"/>
<line x1="838.01" y1="299.75" x2="838.01" y2="527.1" stroke="#efefef" stroke-width="1" stroke-dasharray="9 4"/>
<line x1="535.25" y1="305.25" x2="848.25" y2="305.25" stroke="#efefef" stroke-width="1" stroke-dasharray="9 4"/>
<line x1="535.25" y1="340.47" x2="848.25" y2="340.47" stroke="#efefef" stroke-width="1" stroke-dasharray="9 4"/>
<line x1="535.25" y1="375.7" x2="848.25" y2="375.7" stroke="#efefef" stroke-width="1" stroke-dasharray="9 4"/>
<line x1="535.25" y1="410.93" x2="848.25" y2="410.93" stroke="#efefef" stroke-width="1" stroke-dasharray="9 4"/>
<line x1="535.25" y1="446.15" x2="848.25" y2="446.15" stroke="#efefef" stroke-width="1" stroke-dasharray="9 4"/>
<line x1="535.25" y1="481.38" x2="848.25" y2="481.38" stroke="#efefef" stroke-width="1" stroke-dasharray="9 4"/>
<line x1="535.25" y1="516.6" x2="848.25" y2="516.6" stroke="#efefef" stroke-width="1" stroke-dasharray="9 4"/>
<line x1="534.75" y1="414.2" x2="846.25" y2="414.2" stroke="#b04a44" stroke-width="2" stroke-dasharray="13.5 7.3"/>
<circle cx="544.6" cy="443" r="4.5" fill="#1f82f0" stroke="#1a68c8" stroke-width="0.7"/>
<circle cx="552.53" cy="443" r="4.5" fill="#1f82f0" stroke="#1a68c8" stroke-width="0.7"/>
<circle cx="560.46" cy="398" r="4.5" fill="#1f82f0" stroke="#1a68c8" stroke-width="0.7"/>
<circle cx="568.39" cy="408.75" r="4.5" fill="#1f82f0" stroke="#1a68c8" stroke-width="0.7"/>
<circle cx="576.32" cy="424" r="4.5" fill="#1f82f0" stroke="#1a68c8" stroke-width="0.7"/>
<circle cx="584.25" cy="425" r="4.5" fill="#1f82f0" stroke="#1a68c8" stroke-width="0.7"/>
<circle cx="592.18" cy="410.5" r="4.5" fill="#1f82f0" stroke="#1a68c8" stroke-width="0.7"/>
<circle cx="600.11" cy="397.5" r="4.5" fill="#1f82f0" stroke="#1a68c8" stroke-width="0.7"/>
<circle cx="608.04" cy="431.25" r="4.5" fill="#1f82f0" stroke="#1a68c8" stroke-width="0.7"/>
<circle cx="615.97" cy="424.25" r="4.5" fill="#1f82f0" stroke="#1a68c8" stroke-width="0.7"/>
<circle cx="623.9" cy="412.5" r="4.5" fill="#1f82f0" stroke="#1a68c8" stroke-width="0.7"/>
<circle cx="631.83" cy="418" r="4.5" fill="#1f82f0" stroke="#1a68c8" stroke-width="0.7"/>
<circle cx="639.76" cy="418.5" r="4.5" fill="#1f82f0" stroke="#1a68c8" stroke-width="0.7"/>
<circle cx="647.69" cy="410" r="4.5" fill="#1f82f0" stroke="#1a68c8" stroke-width="0.7"/>
<circle cx="655.62" cy="416" r="4.5" fill="#1f82f0" stroke="#1a68c8" stroke-width="0.7"/>
<circle cx="663.55" cy="438.25" r="4.5" fill="#1f82f0" stroke="#1a68c8" stroke-width="0.7"/>
<circle cx="671.48" cy="435.75" r="4.5" fill="#1f82f0" stroke="#1a68c8" stroke-width="0.7"/>
<circle cx="679.41" cy="413.25" r="4.5" fill="#1f82f0" stroke="#1a68c8" stroke-width="0.7"/>
<circle cx="687.34" cy="423" r="4.5" fill="#1f82f0" stroke="#1a68c8" stroke-width="0.7"/>
<circle cx="695.27" cy="360.75" r="4.5" fill="#1f82f0" stroke="#1a68c8" stroke-width="0.7"/>
<circle cx="703.2" cy="329" r="4.5" fill="#1f82f0" stroke="#1a68c8" stroke-width="0.7"/>
<circle cx="711.13" cy="413.25" r="4.5" fill="#1f82f0" stroke="#1a68c8" stroke-width="0.7"/>
<circle cx="719.06" cy="365.5" r="4.5" fill="#1f82f0" stroke="#1a68c8" stroke-width="0.7"/>
<circle cx="726.99" cy="409.25" r="4.5" fill="#1f82f0" stroke="#1a68c8" stroke-width="0.7"/>
<circle cx="734.92" cy="430.75" r="4.5" fill="#1f82f0" stroke="#1a68c8" stroke-width="0.7"/>
<circle cx="742.85" cy="415.25" r="4.5" fill="#1f82f0" stroke="#1a68c8" stroke-width="0.7"/>
<circle cx="750.78" cy="425.75" r="4.5" fill="#1f82f0" stroke="#1a68c8" stroke-width="0.7"/>
<circle cx="758.71" cy="390.5" r="4.5" fill="#1f82f0" stroke="#1a68c8" stroke-width="0.7"/>
<circle cx="766.64" cy="435.5" r="4.5" fill="#1f82f0" stroke="#1a68c8" stroke-width="0.7"/>
<circle cx="774.57" cy="430" r="4.5" fill="#1f82f0" stroke="#1a68c8" stroke-width="0.7"/>
<circle cx="782.5" cy="451.5" r="4.5" fill="#1f82f0" stroke="#1a68c8" stroke-width="0.7"/>
<circle cx="790.43" cy="398.5" r="4.5" fill="#1f82f0" stroke="#1a68c8" stroke-width="0.7"/>
<circle cx="798.36" cy="426.5" r="4.5" fill="#1f82f0" stroke="#1a68c8" stroke-width="0.7"/>
<circle cx="806.29" cy="402" r="4.5" fill="#1f82f0" stroke="#1a68c8" stroke-width="0.7"/>
<circle cx="814.22" cy="404.5" r="4.5" fill="#1f82f0" stroke="#1a68c8" stroke-width="0.7"/>
<circle cx="822.15" cy="440" r="4.5" fill="#1f82f0" stroke="#1a68c8" stroke-width="0.7"/>
<circle cx="830.08" cy="427" r="4.5" fill="#1f82f0" stroke="#1a68c8" stroke-width="0.7"/>
<circle cx="838.01" cy="402.5" r="4.5" fill="#1f82f0" stroke="#1a68c8" stroke-width="0.7"/>
<path d="M534.25 295.75V527.1H848.25" fill="none" stroke="#555555" stroke-width="1.4"/>
<line x1="527.75" y1="305.25" x2="534.25" y2="305.25" stroke="#555555" stroke-width="1.3"/>
<text transform="translate(523.95,310.05) scale(0.955,1)" text-anchor="end" class="t">50</text>
<line x1="527.75" y1="340.47" x2="534.25" y2="340.47" stroke="#555555" stroke-width="1.3"/>
<text transform="translate(523.95,345.27) scale(0.955,1)" text-anchor="end" class="t">25</text>
<line x1="527.75" y1="375.7" x2="534.25" y2="375.7" stroke="#555555" stroke-width="1.3"/>
<text transform="translate(523.95,380.5) scale(0.955,1)" text-anchor="end" class="t">0</text>
<line x1="527.75" y1="410.93" x2="534.25" y2="410.93" stroke="#555555" stroke-width="1.3"/>
<text transform="translate(523.95,415.73) scale(0.955,1)" text-anchor="end" class="t">-25</text>
<line x1="527.75" y1="446.15" x2="534.25" y2="446.15" stroke="#555555" stroke-width="1.3"/>
<text transform="translate(523.95,450.95) scale(0.955,1)" text-anchor="end" class="t">-50</text>
<line x1="527.75" y1="481.38" x2="534.25" y2="481.38" stroke="#555555" stroke-width="1.3"/>
<text transform="translate(523.95,486.18) scale(0.955,1)" text-anchor="end" class="t">-75</text>
<line x1="527.75" y1="516.6" x2="534.25" y2="516.6" stroke="#555555" stroke-width="1.3"/>
<text transform="translate(523.95,521.4) scale(0.955,1)" text-anchor="end" class="t">-100</text>
<line x1="544.6" y1="527.1" x2="544.6" y2="533.6" stroke="#555555" stroke-width="1.2"/>
<text transform="translate(547.8,537) rotate(-90)" text-anchor="end" class="s">Alabama</text>
<line x1="552.53" y1="527.1" x2="552.53" y2="533.6" stroke="#555555" stroke-width="1.2"/>
<text transform="translate(555.73,537) rotate(-90)" text-anchor="end" class="s">Arkansas</text>
<line x1="560.46" y1="527.1" x2="560.46" y2="533.6" stroke="#555555" stroke-width="1.2"/>
<text transform="translate(563.66,537) rotate(-90)" text-anchor="end" class="s">Colorado</text>
<line x1="568.39" y1="527.1" x2="568.39" y2="533.6" stroke="#555555" stroke-width="1.2"/>
<text transform="translate(571.59,537) rotate(-90)" text-anchor="end" class="s">Connecticut</text>
<line x1="576.32" y1="527.1" x2="576.32" y2="533.6" stroke="#555555" stroke-width="1.2"/>
<text transform="translate(579.52,537) rotate(-90)" text-anchor="end" class="s">Delaware</text>
<line x1="584.25" y1="527.1" x2="584.25" y2="533.6" stroke="#555555" stroke-width="1.2"/>
<text transform="translate(587.45,537) rotate(-90)" text-anchor="end" class="s">Georgia</text>
<line x1="592.18" y1="527.1" x2="592.18" y2="533.6" stroke="#555555" stroke-width="1.2"/>
<text transform="translate(595.38,537) rotate(-90)" text-anchor="end" class="s">Idaho</text>
<line x1="600.11" y1="527.1" x2="600.11" y2="533.6" stroke="#555555" stroke-width="1.2"/>
<text transform="translate(603.31,537) rotate(-90)" text-anchor="end" class="s">Illinois</text>
<line x1="608.04" y1="527.1" x2="608.04" y2="533.6" stroke="#555555" stroke-width="1.2"/>
<text transform="translate(611.24,537) rotate(-90)" text-anchor="end" class="s">Indiana</text>
<line x1="615.97" y1="527.1" x2="615.97" y2="533.6" stroke="#555555" stroke-width="1.2"/>
<text transform="translate(619.17,537) rotate(-90)" text-anchor="end" class="s">Iowa</text>
<line x1="623.9" y1="527.1" x2="623.9" y2="533.6" stroke="#555555" stroke-width="1.2"/>
<text transform="translate(627.1,537) rotate(-90)" text-anchor="end" class="s">Kansas</text>
<line x1="631.83" y1="527.1" x2="631.83" y2="533.6" stroke="#555555" stroke-width="1.2"/>
<text transform="translate(635.03,537) rotate(-90)" text-anchor="end" class="s">Kentucky</text>
<line x1="639.76" y1="527.1" x2="639.76" y2="533.6" stroke="#555555" stroke-width="1.2"/>
<text transform="translate(642.96,537) rotate(-90)" text-anchor="end" class="s">Louisiana</text>
<line x1="647.69" y1="527.1" x2="647.69" y2="533.6" stroke="#555555" stroke-width="1.2"/>
<text transform="translate(650.89,537) rotate(-90)" text-anchor="end" class="s">Maine</text>
<line x1="655.62" y1="527.1" x2="655.62" y2="533.6" stroke="#555555" stroke-width="1.2"/>
<text transform="translate(658.82,537) rotate(-90)" text-anchor="end" class="s">Minnesota</text>
<line x1="663.55" y1="527.1" x2="663.55" y2="533.6" stroke="#555555" stroke-width="1.2"/>
<text transform="translate(666.75,537) rotate(-90)" text-anchor="end" class="s">Mississippi</text>
<line x1="671.48" y1="527.1" x2="671.48" y2="533.6" stroke="#555555" stroke-width="1.2"/>
<text transform="translate(674.68,537) rotate(-90)" text-anchor="end" class="s">Missouri</text>
<line x1="679.41" y1="527.1" x2="679.41" y2="533.6" stroke="#555555" stroke-width="1.2"/>
<text transform="translate(682.61,537) rotate(-90)" text-anchor="end" class="s">Montana</text>
<line x1="687.34" y1="527.1" x2="687.34" y2="533.6" stroke="#555555" stroke-width="1.2"/>
<text transform="translate(690.54,537) rotate(-90)" text-anchor="end" class="s">Nebraska</text>
<line x1="695.27" y1="527.1" x2="695.27" y2="533.6" stroke="#555555" stroke-width="1.2"/>
<text transform="translate(698.47,537) rotate(-90)" text-anchor="end" class="s">Nevada</text>
<line x1="703.2" y1="527.1" x2="703.2" y2="533.6" stroke="#555555" stroke-width="1.2"/>
<text transform="translate(706.4,537) rotate(-90)" text-anchor="end" class="s">New Hampshire</text>
<line x1="711.13" y1="527.1" x2="711.13" y2="533.6" stroke="#555555" stroke-width="1.2"/>
<text transform="translate(714.33,537) rotate(-90)" text-anchor="end" class="s">New Mexico</text>
<line x1="719.06" y1="527.1" x2="719.06" y2="533.6" stroke="#555555" stroke-width="1.2"/>
<text transform="translate(722.26,537) rotate(-90)" text-anchor="end" class="s">North Carolina</text>
<line x1="726.99" y1="527.1" x2="726.99" y2="533.6" stroke="#555555" stroke-width="1.2"/>
<text transform="translate(730.19,537) rotate(-90)" text-anchor="end" class="s">North Dakota</text>
<line x1="734.92" y1="527.1" x2="734.92" y2="533.6" stroke="#555555" stroke-width="1.2"/>
<text transform="translate(738.12,537) rotate(-90)" text-anchor="end" class="s">Ohio</text>
<line x1="742.85" y1="527.1" x2="742.85" y2="533.6" stroke="#555555" stroke-width="1.2"/>
<text transform="translate(746.05,537) rotate(-90)" text-anchor="end" class="s">Oklahoma</text>
<line x1="750.78" y1="527.1" x2="750.78" y2="533.6" stroke="#555555" stroke-width="1.2"/>
<text transform="translate(753.98,537) rotate(-90)" text-anchor="end" class="s">Pennsylvania</text>
<line x1="758.71" y1="527.1" x2="758.71" y2="533.6" stroke="#555555" stroke-width="1.2"/>
<text transform="translate(761.91,537) rotate(-90)" text-anchor="end" class="s">Rhode Island</text>
<line x1="766.64" y1="527.1" x2="766.64" y2="533.6" stroke="#555555" stroke-width="1.2"/>
<text transform="translate(769.84,537) rotate(-90)" text-anchor="end" class="s">South Carolina</text>
<line x1="774.57" y1="527.1" x2="774.57" y2="533.6" stroke="#555555" stroke-width="1.2"/>
<text transform="translate(777.77,537) rotate(-90)" text-anchor="end" class="s">South Dakota</text>
<line x1="782.5" y1="527.1" x2="782.5" y2="533.6" stroke="#555555" stroke-width="1.2"/>
<text transform="translate(785.7,537) rotate(-90)" text-anchor="end" class="s">Tennessee</text>
<line x1="790.43" y1="527.1" x2="790.43" y2="533.6" stroke="#555555" stroke-width="1.2"/>
<text transform="translate(793.63,537) rotate(-90)" text-anchor="end" class="s">Texas</text>
<line x1="798.36" y1="527.1" x2="798.36" y2="533.6" stroke="#555555" stroke-width="1.2"/>
<text transform="translate(801.56,537) rotate(-90)" text-anchor="end" class="s">Utah</text>
<line x1="806.29" y1="527.1" x2="806.29" y2="533.6" stroke="#555555" stroke-width="1.2"/>
<text transform="translate(809.49,537) rotate(-90)" text-anchor="end" class="s">Vermont</text>
<line x1="814.22" y1="527.1" x2="814.22" y2="533.6" stroke="#555555" stroke-width="1.2"/>
<text transform="translate(817.42,537) rotate(-90)" text-anchor="end" class="s">Virginia</text>
<line x1="822.15" y1="527.1" x2="822.15" y2="533.6" stroke="#555555" stroke-width="1.2"/>
<text transform="translate(825.35,537) rotate(-90)" text-anchor="end" class="s">West Virginia</text>
<line x1="830.08" y1="527.1" x2="830.08" y2="533.6" stroke="#555555" stroke-width="1.2"/>
<text transform="translate(833.28,537) rotate(-90)" text-anchor="end" class="s">Wisconsin</text>
<line x1="838.01" y1="527.1" x2="838.01" y2="533.6" stroke="#555555" stroke-width="1.2"/>
<text transform="translate(841.21,537) rotate(-90)" text-anchor="end" class="s">Wyoming</text>
<line x1="941.3" y1="299.75" x2="941.3" y2="527.1" stroke="#efefef" stroke-width="1" stroke-dasharray="9 4"/>
<line x1="949.23" y1="299.75" x2="949.23" y2="527.1" stroke="#efefef" stroke-width="1" stroke-dasharray="9 4"/>
<line x1="957.16" y1="299.75" x2="957.16" y2="527.1" stroke="#efefef" stroke-width="1" stroke-dasharray="9 4"/>
<line x1="965.09" y1="299.75" x2="965.09" y2="527.1" stroke="#efefef" stroke-width="1" stroke-dasharray="9 4"/>
<line x1="973.02" y1="299.75" x2="973.02" y2="527.1" stroke="#efefef" stroke-width="1" stroke-dasharray="9 4"/>
<line x1="980.95" y1="299.75" x2="980.95" y2="527.1" stroke="#efefef" stroke-width="1" stroke-dasharray="9 4"/>
<line x1="988.88" y1="299.75" x2="988.88" y2="527.1" stroke="#efefef" stroke-width="1" stroke-dasharray="9 4"/>
<line x1="996.81" y1="299.75" x2="996.81" y2="527.1" stroke="#efefef" stroke-width="1" stroke-dasharray="9 4"/>
<line x1="1004.74" y1="299.75" x2="1004.74" y2="527.1" stroke="#efefef" stroke-width="1" stroke-dasharray="9 4"/>
<line x1="1012.67" y1="299.75" x2="1012.67" y2="527.1" stroke="#efefef" stroke-width="1" stroke-dasharray="9 4"/>
<line x1="1020.6" y1="299.75" x2="1020.6" y2="527.1" stroke="#efefef" stroke-width="1" stroke-dasharray="9 4"/>
<line x1="1028.53" y1="299.75" x2="1028.53" y2="527.1" stroke="#efefef" stroke-width="1" stroke-dasharray="9 4"/>
<line x1="1036.46" y1="299.75" x2="1036.46" y2="527.1" stroke="#efefef" stroke-width="1" stroke-dasharray="9 4"/>
<line x1="1044.39" y1="299.75" x2="1044.39" y2="527.1" stroke="#efefef" stroke-width="1" stroke-dasharray="9 4"/>
<line x1="1052.32" y1="299.75" x2="1052.32" y2="527.1" stroke="#efefef" stroke-width="1" stroke-dasharray="9 4"/>
<line x1="1060.25" y1="299.75" x2="1060.25" y2="527.1" stroke="#efefef" stroke-width="1" stroke-dasharray="9 4"/>
<line x1="1068.18" y1="299.75" x2="1068.18" y2="527.1" stroke="#efefef" stroke-width="1" stroke-dasharray="9 4"/>
<line x1="1076.11" y1="299.75" x2="1076.11" y2="527.1" stroke="#efefef" stroke-width="1" stroke-dasharray="9 4"/>
<line x1="1084.04" y1="299.75" x2="1084.04" y2="527.1" stroke="#efefef" stroke-width="1" stroke-dasharray="9 4"/>
<line x1="1091.97" y1="299.75" x2="1091.97" y2="527.1" stroke="#efefef" stroke-width="1" stroke-dasharray="9 4"/>
<line x1="1099.9" y1="299.75" x2="1099.9" y2="527.1" stroke="#efefef" stroke-width="1" stroke-dasharray="9 4"/>
<line x1="1107.83" y1="299.75" x2="1107.83" y2="527.1" stroke="#efefef" stroke-width="1" stroke-dasharray="9 4"/>
<line x1="1115.76" y1="299.75" x2="1115.76" y2="527.1" stroke="#efefef" stroke-width="1" stroke-dasharray="9 4"/>
<line x1="1123.69" y1="299.75" x2="1123.69" y2="527.1" stroke="#efefef" stroke-width="1" stroke-dasharray="9 4"/>
<line x1="1131.62" y1="299.75" x2="1131.62" y2="527.1" stroke="#efefef" stroke-width="1" stroke-dasharray="9 4"/>
<line x1="1139.55" y1="299.75" x2="1139.55" y2="527.1" stroke="#efefef" stroke-width="1" stroke-dasharray="9 4"/>
<line x1="1147.48" y1="299.75" x2="1147.48" y2="527.1" stroke="#efefef" stroke-width="1" stroke-dasharray="9 4"/>
<line x1="1155.41" y1="299.75" x2="1155.41" y2="527.1" stroke="#efefef" stroke-width="1" stroke-dasharray="9 4"/>
<line x1="1163.34" y1="299.75" x2="1163.34" y2="527.1" stroke="#efefef" stroke-width="1" stroke-dasharray="9 4"/>
<line x1="1171.27" y1="299.75" x2="1171.27" y2="527.1" stroke="#efefef" stroke-width="1" stroke-dasharray="9 4"/>
<line x1="1179.2" y1="299.75" x2="1179.2" y2="527.1" stroke="#efefef" stroke-width="1" stroke-dasharray="9 4"/>
<line x1="1187.13" y1="299.75" x2="1187.13" y2="527.1" stroke="#efefef" stroke-width="1" stroke-dasharray="9 4"/>
<line x1="1195.06" y1="299.75" x2="1195.06" y2="527.1" stroke="#efefef" stroke-width="1" stroke-dasharray="9 4"/>
<line x1="1202.99" y1="299.75" x2="1202.99" y2="527.1" stroke="#efefef" stroke-width="1" stroke-dasharray="9 4"/>
<line x1="1210.92" y1="299.75" x2="1210.92" y2="527.1" stroke="#efefef" stroke-width="1" stroke-dasharray="9 4"/>
<line x1="1218.85" y1="299.75" x2="1218.85" y2="527.1" stroke="#efefef" stroke-width="1" stroke-dasharray="9 4"/>
<line x1="1226.78" y1="299.75" x2="1226.78" y2="527.1" stroke="#efefef" stroke-width="1" stroke-dasharray="9 4"/>
<line x1="1234.71" y1="299.75" x2="1234.71" y2="527.1" stroke="#efefef" stroke-width="1" stroke-dasharray="9 4"/>
<line x1="932.2" y1="305.35" x2="1245.2" y2="305.35" stroke="#efefef" stroke-width="1" stroke-dasharray="9 4"/>
<line x1="932.2" y1="338.07" x2="1245.2" y2="338.07" stroke="#efefef" stroke-width="1" stroke-dasharray="9 4"/>
<line x1="932.2" y1="370.8" x2="1245.2" y2="370.8" stroke="#efefef" stroke-width="1" stroke-dasharray="9 4"/>
<line x1="932.2" y1="403.53" x2="1245.2" y2="403.53" stroke="#efefef" stroke-width="1" stroke-dasharray="9 4"/>
<line x1="932.2" y1="436.25" x2="1245.2" y2="436.25" stroke="#efefef" stroke-width="1" stroke-dasharray="9 4"/>
<line x1="932.2" y1="468.98" x2="1245.2" y2="468.98" stroke="#efefef" stroke-width="1" stroke-dasharray="9 4"/>
<line x1="932.2" y1="501.7" x2="1245.2" y2="501.7" stroke="#efefef" stroke-width="1" stroke-dasharray="9 4"/>
<line x1="931.7" y1="396.4" x2="1243.2" y2="396.4" stroke="#b04a44" stroke-width="2" stroke-dasharray="13.5 7.3"/>
<path d="M939.2 427.15L943.4 431.35M939.2 431.35L943.4 427.15" stroke="#8b2a52" stroke-width="1.45"/>
<path d="M947.13 436.4L951.33 440.6M947.13 440.6L951.33 436.4" stroke="#8b2a52" stroke-width="1.45"/>
<circle cx="957.16" cy="402.75" r="2.4" fill="#1f82f0" stroke="#1a68c8" stroke-width="0.7"/>
<circle cx="965.09" cy="397.75" r="4.8" fill="#1f82f0" stroke="#1a68c8" stroke-width="0.7"/>
<circle cx="973.02" cy="460" r="1.6" fill="#1f82f0" stroke="#1a68c8" stroke-width="0.7"/>
<path d="M978.85 427.15L983.05 431.35M978.85 431.35L983.05 427.15" stroke="#8b2a52" stroke-width="1.45"/>
<path d="M986.78 395.65L990.98 399.85M986.78 399.85L990.98 395.65" stroke="#8b2a52" stroke-width="1.45"/>
<path d="M994.71 403.4L998.91 407.6M994.71 407.6L998.91 403.4" stroke="#8b2a52" stroke-width="1.45"/>
<path d="M1002.64 461.4L1006.84 465.6M1002.64 465.6L1006.84 461.4" stroke="#8b2a52" stroke-width="1.45"/>
<path d="M1010.57 412.4L1014.77 416.6M1010.57 416.6L1014.77 412.4" stroke="#8b2a52" stroke-width="1.45"/>
<path d="M1018.5 406.65L1022.7 410.85M1018.5 410.85L1022.7 406.65" stroke="#8b2a52" stroke-width="1.45"/>
<path d="M1026.43 514.9L1030.63 519.1M1026.43 519.1L1030.63 514.9" stroke="#8b2a52" stroke-width="1.45"/>
<path d="M1034.36 427.15L1038.56 431.35M1034.36 431.35L1038.56 427.15" stroke="#8b2a52" stroke-width="1.45"/>
<path d="M1042.29 425.9L1046.49 430.1M1042.29 430.1L1046.49 425.9" stroke="#8b2a52" stroke-width="1.45"/>
<path d="M1050.22 399.65L1054.42 403.85M1050.22 403.85L1054.42 399.65" stroke="#8b2a52" stroke-width="1.45"/>
<path d="M1058.15 427.15L1062.35 431.35M1058.15 431.35L1062.35 427.15" stroke="#8b2a52" stroke-width="1.45"/>
<path d="M1066.08 447.4L1070.28 451.6M1066.08 451.6L1070.28 447.4" stroke="#8b2a52" stroke-width="1.45"/>
<circle cx="1076.11" cy="404.25" r="7.4" fill="#1f82f0" stroke="#1a68c8" stroke-width="0.7"/>
<path d="M1081.94 404.65L1086.14 408.85M1081.94 408.85L1086.14 404.65" stroke="#8b2a52" stroke-width="1.45"/>
<circle cx="1091.97" cy="435" r="6.8" fill="#1f82f0" stroke="#1a68c8" stroke-width="0.7"/>
<circle cx="1099.9" cy="498.5" r="3.4" fill="#1f82f0" stroke="#1a68c8" stroke-width="0.7"/>
<path d="M1105.73 376.65L1109.93 380.85M1105.73 380.85L1109.93 376.65" stroke="#8b2a52" stroke-width="1.45"/>
<path d="M1113.66 454.15L1117.86 458.35M1113.66 458.35L1117.86 454.15" stroke="#8b2a52" stroke-width="1.45"/>
<path d="M1121.59 393.4L1125.79 397.6M1121.59 397.6L1125.79 393.4" stroke="#8b2a52" stroke-width="1.45"/>
<path d="M1129.52 433.65L1133.72 437.85M1129.52 437.85L1133.72 433.65" stroke="#8b2a52" stroke-width="1.45"/>
<path d="M1137.45 422.9L1141.65 427.1M1137.45 427.1L1141.65 422.9" stroke="#8b2a52" stroke-width="1.45"/>
<path d="M1145.38 415.4L1149.58 419.6M1145.38 419.6L1149.58 415.4" stroke="#8b2a52" stroke-width="1.45"/>
<path d="M1153.31 414.15L1157.51 418.35M1153.31 418.35L1157.51 414.15" stroke="#8b2a52" stroke-width="1.45"/>
<path d="M1161.24 440.4L1165.44 444.6M1161.24 444.6L1165.44 440.4" stroke="#8b2a52" stroke-width="1.45"/>
<path d="M1169.17 407.15L1173.37 411.35M1169.17 411.35L1173.37 407.15" stroke="#8b2a52" stroke-width="1.45"/>
<path d="M1177.1 446.4L1181.3 450.6M1177.1 450.6L1181.3 446.4" stroke="#8b2a52" stroke-width="1.45"/>
<path d="M1185.03 391.65L1189.23 395.85M1185.03 395.85L1189.23 391.65" stroke="#8b2a52" stroke-width="1.45"/>
<circle cx="1195.06" cy="359.5" r="8.8" fill="#1f82f0" stroke="#1a68c8" stroke-width="0.7"/>
<path d="M1200.89 435.4L1205.09 439.6M1200.89 439.6L1205.09 435.4" stroke="#8b2a52" stroke-width="1.45"/>
<path d="M1208.82 431.15L1213.02 435.35M1208.82 435.35L1213.02 431.15" stroke="#8b2a52" stroke-width="1.45"/>
<path d="M1216.75 431.9L1220.95 436.1M1216.75 436.1L1220.95 431.9" stroke="#8b2a52" stroke-width="1.45"/>
<path d="M1224.68 409.9L1228.88 414.1M1224.68 414.1L1228.88 409.9" stroke="#8b2a52" stroke-width="1.45"/>
<path d="M1232.61 429.65L1236.81 433.85M1232.61 433.85L1236.81 429.65" stroke="#8b2a52" stroke-width="1.45"/>
<path d="M931.2 295.75V527.1H1245.2" fill="none" stroke="#555555" stroke-width="1.4"/>
<line x1="924.7" y1="305.35" x2="931.2" y2="305.35" stroke="#555555" stroke-width="1.3"/>
<text transform="translate(920.9,310.15) scale(0.955,1)" text-anchor="end" class="t">50</text>
<line x1="924.7" y1="338.07" x2="931.2" y2="338.07" stroke="#555555" stroke-width="1.3"/>
<text transform="translate(920.9,342.88) scale(0.955,1)" text-anchor="end" class="t">25</text>
<line x1="924.7" y1="370.8" x2="931.2" y2="370.8" stroke="#555555" stroke-width="1.3"/>
<text transform="translate(920.9,375.6) scale(0.955,1)" text-anchor="end" class="t">0</text>
<line x1="924.7" y1="403.53" x2="931.2" y2="403.53" stroke="#555555" stroke-width="1.3"/>
<text transform="translate(920.9,408.33) scale(0.955,1)" text-anchor="end" class="t">-25</text>
<line x1="924.7" y1="436.25" x2="931.2" y2="436.25" stroke="#555555" stroke-width="1.3"/>
<text transform="translate(920.9,441.05) scale(0.955,1)" text-anchor="end" class="t">-50</text>
<line x1="924.7" y1="468.98" x2="931.2" y2="468.98" stroke="#555555" stroke-width="1.3"/>
<text transform="translate(920.9,473.78) scale(0.955,1)" text-anchor="end" class="t">-75</text>
<line x1="924.7" y1="501.7" x2="931.2" y2="501.7" stroke="#555555" stroke-width="1.3"/>
<text transform="translate(920.9,506.5) scale(0.955,1)" text-anchor="end" class="t">-100</text>
<line x1="941.3" y1="527.1" x2="941.3" y2="533.6" stroke="#555555" stroke-width="1.2"/>
<text transform="translate(944.5,537) rotate(-90)" text-anchor="end" class="s">Alabama</text>
<line x1="949.23" y1="527.1" x2="949.23" y2="533.6" stroke="#555555" stroke-width="1.2"/>
<text transform="translate(952.43,537) rotate(-90)" text-anchor="end" class="s">Arkansas</text>
<line x1="957.16" y1="527.1" x2="957.16" y2="533.6" stroke="#555555" stroke-width="1.2"/>
<text transform="translate(960.36,537) rotate(-90)" text-anchor="end" class="s">Colorado</text>
<line x1="965.09" y1="527.1" x2="965.09" y2="533.6" stroke="#555555" stroke-width="1.2"/>
<text transform="translate(968.29,537) rotate(-90)" text-anchor="end" class="s">Connecticut</text>
<line x1="973.02" y1="527.1" x2="973.02" y2="533.6" stroke="#555555" stroke-width="1.2"/>
<text transform="translate(976.22,537) rotate(-90)" text-anchor="end" class="s">Delaware</text>
<line x1="980.95" y1="527.1" x2="980.95" y2="533.6" stroke="#555555" stroke-width="1.2"/>
<text transform="translate(984.15,537) rotate(-90)" text-anchor="end" class="s">Georgia</text>
<line x1="988.88" y1="527.1" x2="988.88" y2="533.6" stroke="#555555" stroke-width="1.2"/>
<text transform="translate(992.08,537) rotate(-90)" text-anchor="end" class="s">Idaho</text>
<line x1="996.81" y1="527.1" x2="996.81" y2="533.6" stroke="#555555" stroke-width="1.2"/>
<text transform="translate(1000.01,537) rotate(-90)" text-anchor="end" class="s">Illinois</text>
<line x1="1004.74" y1="527.1" x2="1004.74" y2="533.6" stroke="#555555" stroke-width="1.2"/>
<text transform="translate(1007.94,537) rotate(-90)" text-anchor="end" class="s">Indiana</text>
<line x1="1012.67" y1="527.1" x2="1012.67" y2="533.6" stroke="#555555" stroke-width="1.2"/>
<text transform="translate(1015.87,537) rotate(-90)" text-anchor="end" class="s">Iowa</text>
<line x1="1020.6" y1="527.1" x2="1020.6" y2="533.6" stroke="#555555" stroke-width="1.2"/>
<text transform="translate(1023.8,537) rotate(-90)" text-anchor="end" class="s">Kansas</text>
<line x1="1028.53" y1="527.1" x2="1028.53" y2="533.6" stroke="#555555" stroke-width="1.2"/>
<text transform="translate(1031.73,537) rotate(-90)" text-anchor="end" class="s">Kentucky</text>
<line x1="1036.46" y1="527.1" x2="1036.46" y2="533.6" stroke="#555555" stroke-width="1.2"/>
<text transform="translate(1039.66,537) rotate(-90)" text-anchor="end" class="s">Louisiana</text>
<line x1="1044.39" y1="527.1" x2="1044.39" y2="533.6" stroke="#555555" stroke-width="1.2"/>
<text transform="translate(1047.59,537) rotate(-90)" text-anchor="end" class="s">Maine</text>
<line x1="1052.32" y1="527.1" x2="1052.32" y2="533.6" stroke="#555555" stroke-width="1.2"/>
<text transform="translate(1055.52,537) rotate(-90)" text-anchor="end" class="s">Minnesota</text>
<line x1="1060.25" y1="527.1" x2="1060.25" y2="533.6" stroke="#555555" stroke-width="1.2"/>
<text transform="translate(1063.45,537) rotate(-90)" text-anchor="end" class="s">Mississippi</text>
<line x1="1068.18" y1="527.1" x2="1068.18" y2="533.6" stroke="#555555" stroke-width="1.2"/>
<text transform="translate(1071.38,537) rotate(-90)" text-anchor="end" class="s">Missouri</text>
<line x1="1076.11" y1="527.1" x2="1076.11" y2="533.6" stroke="#555555" stroke-width="1.2"/>
<text transform="translate(1079.31,537) rotate(-90)" text-anchor="end" class="s">Montana</text>
<line x1="1084.04" y1="527.1" x2="1084.04" y2="533.6" stroke="#555555" stroke-width="1.2"/>
<text transform="translate(1087.24,537) rotate(-90)" text-anchor="end" class="s">Nebraska</text>
<line x1="1091.97" y1="527.1" x2="1091.97" y2="533.6" stroke="#555555" stroke-width="1.2"/>
<text transform="translate(1095.17,537) rotate(-90)" text-anchor="end" class="s">Nevada</text>
<line x1="1099.9" y1="527.1" x2="1099.9" y2="533.6" stroke="#555555" stroke-width="1.2"/>
<text transform="translate(1103.1,537) rotate(-90)" text-anchor="end" class="s">New Hampshire</text>
<line x1="1107.83" y1="527.1" x2="1107.83" y2="533.6" stroke="#555555" stroke-width="1.2"/>
<text transform="translate(1111.03,537) rotate(-90)" text-anchor="end" class="s">New Mexico</text>
<line x1="1115.76" y1="527.1" x2="1115.76" y2="533.6" stroke="#555555" stroke-width="1.2"/>
<text transform="translate(1118.96,537) rotate(-90)" text-anchor="end" class="s">North Carolina</text>
<line x1="1123.69" y1="527.1" x2="1123.69" y2="533.6" stroke="#555555" stroke-width="1.2"/>
<text transform="translate(1126.89,537) rotate(-90)" text-anchor="end" class="s">North Dakota</text>
<line x1="1131.62" y1="527.1" x2="1131.62" y2="533.6" stroke="#555555" stroke-width="1.2"/>
<text transform="translate(1134.82,537) rotate(-90)" text-anchor="end" class="s">Ohio</text>
<line x1="1139.55" y1="527.1" x2="1139.55" y2="533.6" stroke="#555555" stroke-width="1.2"/>
<text transform="translate(1142.75,537) rotate(-90)" text-anchor="end" class="s">Oklahoma</text>
<line x1="1147.48" y1="527.1" x2="1147.48" y2="533.6" stroke="#555555" stroke-width="1.2"/>
<text transform="translate(1150.68,537) rotate(-90)" text-anchor="end" class="s">Pennsylvania</text>
<line x1="1155.41" y1="527.1" x2="1155.41" y2="533.6" stroke="#555555" stroke-width="1.2"/>
<text transform="translate(1158.61,537) rotate(-90)" text-anchor="end" class="s">Rhode Island</text>
<line x1="1163.34" y1="527.1" x2="1163.34" y2="533.6" stroke="#555555" stroke-width="1.2"/>
<text transform="translate(1166.54,537) rotate(-90)" text-anchor="end" class="s">South Carolina</text>
<line x1="1171.27" y1="527.1" x2="1171.27" y2="533.6" stroke="#555555" stroke-width="1.2"/>
<text transform="translate(1174.47,537) rotate(-90)" text-anchor="end" class="s">South Dakota</text>
<line x1="1179.2" y1="527.1" x2="1179.2" y2="533.6" stroke="#555555" stroke-width="1.2"/>
<text transform="translate(1182.4,537) rotate(-90)" text-anchor="end" class="s">Tennessee</text>
<line x1="1187.13" y1="527.1" x2="1187.13" y2="533.6" stroke="#555555" stroke-width="1.2"/>
<text transform="translate(1190.33,537) rotate(-90)" text-anchor="end" class="s">Texas</text>
<line x1="1195.06" y1="527.1" x2="1195.06" y2="533.6" stroke="#555555" stroke-width="1.2"/>
<text transform="translate(1198.26,537) rotate(-90)" text-anchor="end" class="s">Utah</text>
<line x1="1202.99" y1="527.1" x2="1202.99" y2="533.6" stroke="#555555" stroke-width="1.2"/>
<text transform="translate(1206.19,537) rotate(-90)" text-anchor="end" class="s">Vermont</text>
<line x1="1210.92" y1="527.1" x2="1210.92" y2="533.6" stroke="#555555" stroke-width="1.2"/>
<text transform="translate(1214.12,537) rotate(-90)" text-anchor="end" class="s">Virginia</text>
<line x1="1218.85" y1="527.1" x2="1218.85" y2="533.6" stroke="#555555" stroke-width="1.2"/>
<text transform="translate(1222.05,537) rotate(-90)" text-anchor="end" class="s">West Virginia</text>
<line x1="1226.78" y1="527.1" x2="1226.78" y2="533.6" stroke="#555555" stroke-width="1.2"/>
<text transform="translate(1229.98,537) rotate(-90)" text-anchor="end" class="s">Wisconsin</text>
<line x1="1234.71" y1="527.1" x2="1234.71" y2="533.6" stroke="#555555" stroke-width="1.2"/>
<text transform="translate(1237.91,537) rotate(-90)" text-anchor="end" class="s">Wyoming</text>
</svg>
</body></html>
